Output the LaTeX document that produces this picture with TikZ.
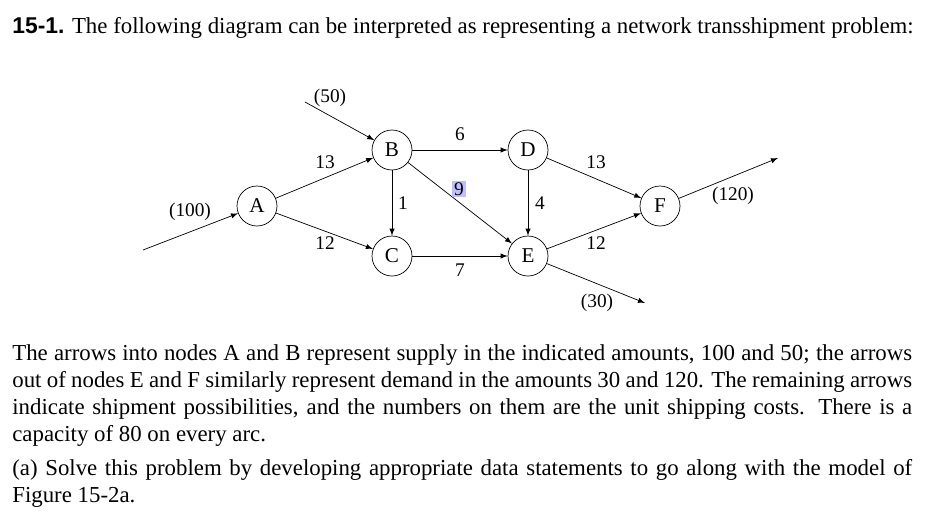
\documentclass[tikz,border=0pt]{standalone}
\usepackage{fontspec}
\setmainfont{Liberation Serif}
\newfontfamily\headfont{Liberation Sans}
\usetikzlibrary{arrows}

\begin{document}
\begin{tikzpicture}[>=latex,x=0.02cm,y=-0.02cm,
    stn/.style={circle,draw=black,minimum size=0.8cm,inner sep=0pt,font=\fontsize{12}{14}\selectfont},
    lbl/.style={font=\fontsize{11}{13}\selectfont,inner sep=1pt},
    arc/.style={->,thin},
    body/.style={anchor=north west,inner sep=0pt,text width=18cm,align=justify,font=\fontsize{13}{15.4}\selectfont}]
  \useasboundingbox (0,0) rectangle (934,512);
  % heading
  \node[anchor=west,inner sep=0pt] (head) at (12,28)
    {\fontsize{13}{15}\selectfont{\headfont\bfseries 15-1.} The following diagram can be interpreted as representing a network transshipment problem:};
  % network
  \node[stn] (A) at (257,206) {A};
  \node[stn] (B) at (392,150) {B};
  \node[stn] (C) at (392,256) {C};
  \node[stn] (D) at (528,150) {D};
  \node[stn] (E) at (528,256) {E};
  \node[stn] (F) at (660,206) {F};
  \coordinate (inA) at (143,250);
  \coordinate (inB) at (305,102);
  \coordinate (outF) at (778,158);
  \coordinate (outE) at (645,303);
  \draw[arc] (inA) -- (A);
  \draw[arc] (inB) -- (B);
  \draw[arc] (F) -- (outF);
  \draw[arc] (E) -- (outE);
  \draw[arc] (A) -- (B);
  \draw[arc] (A) -- (C);
  \draw[arc] (B) -- (D);
  \draw[arc] (B) -- (C);
  \draw[arc] (B) -- (E);
  \draw[arc] (D) -- (E);
  \draw[arc] (C) -- (E);
  \draw[arc] (D) -- (F);
  \draw[arc] (E) -- (F);
  % labels
  \node[lbl] (l50) at (330,98) {(50)};
  \node[lbl] (l100) at (190,212) {(100)};
  \node[lbl] (l120) at (733,196) {(120)};
  \node[lbl] (l30) at (597,303) {(30)};
  \node[lbl] (lAB) at (325,162) {13};
  \node[lbl] (lAC) at (325,243) {12};
  \node[lbl] (lBD) at (460,134) {6};
  \node[lbl] (lBC) at (403,203) {1};
  \node[lbl,fill=blue!25] (lBE) at (459,189) {9};
  \node[lbl] (lDE) at (540,203) {4};
  \node[lbl] (lCE) at (460,270) {7};
  \node[lbl] (lDF) at (596,162) {13};
  \node[lbl] (lEF) at (596,243) {12};
  % text
  \node[body] (para) at (12,344)
    {The arrows into nodes A and B represent supply in the indicated amounts, 100 and 50; the arrows out of nodes E and F similarly represent demand in the amounts 30 and 120. The remaining arrows indicate shipment possibilities, and the numbers on them are the unit shipping costs. There is a capacity of 80 on every arc.};
  \node[body] (parta) at (12,459)
    {(a) Solve this problem by developing appropriate data statements to go along with the model of Figure 15-2a.};
\end{tikzpicture}
\end{document}
